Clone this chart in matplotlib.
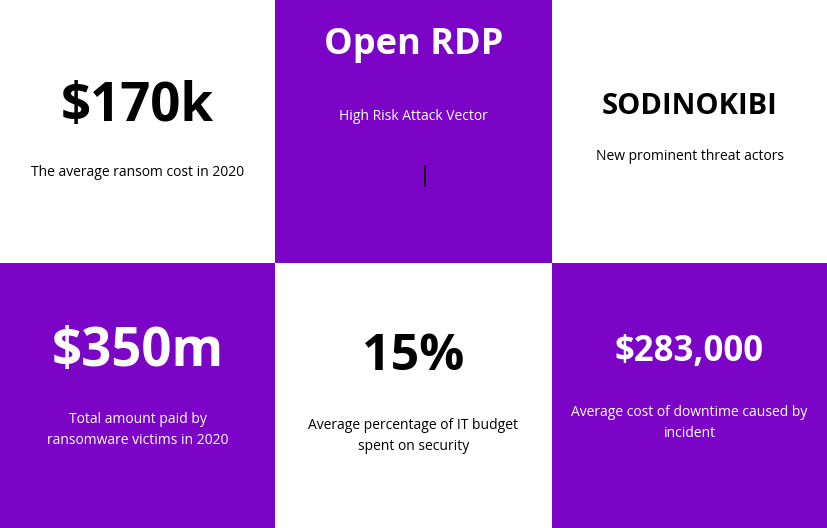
import matplotlib
matplotlib.use("Agg")
import matplotlib.pyplot as plt
from matplotlib.patches import Rectangle

headlines = ["$170k", "Open RDP", "SODINOKIBI", "$350m", "15%", "$283,000"]
captions = ["The average ransom cost in 2020", "High Risk Attack Vector",
            "New prominent threat actors",
            "Total amount paid by\nransomware victims in 2020",
            "Average percentage of IT budget\nspent on security",
            "Average cost of downtime caused by\nincident"]
purple_cells = [False, True, False, True, False, True]

W, H = 827, 528
fig = plt.figure(figsize=(W/100, H/100), dpi=100)
ax = fig.add_axes([0, 0, 1, 1])
ax.set_xlim(0, W); ax.set_ylim(H, 0); ax.axis("off")

col_edges = [0, 275, 552, 827]
row_edges = [0, 263, 528]
PURPLE = "#7B04C6"
big_sizes = [38, 26, 21, 38, 36, 25]
big_y = [107, 45, 107, 352, 357, 352]
cap_y = [172, 116, 156, 430, 436, 423]

for i in range(6):
    r, c = divmod(i, 3)
    x0, x1 = col_edges[c], col_edges[c+1]
    y0, y1 = row_edges[r], row_edges[r+1]
    fill = PURPLE if purple_cells[i] else "white"
    ax.add_patch(Rectangle((x0, y0), x1-x0, y1-y0, color=fill, lw=0))
    tc = "white" if purple_cells[i] else "black"
    cx = (x0 + x1) / 2
    ax.text(cx, big_y[i], headlines[i], ha="center", va="center", color=tc,
            fontsize=big_sizes[i], fontweight="bold", family="Open Sans")
    ax.text(cx, cap_y[i], captions[i], ha="center", va="center", color=tc,
            fontsize=10, family="Open Sans", linespacing=1.6)

ax.plot([425, 425], [166, 186], color="black", lw=1.2)
fig.savefig("out.png", dpi=100)
